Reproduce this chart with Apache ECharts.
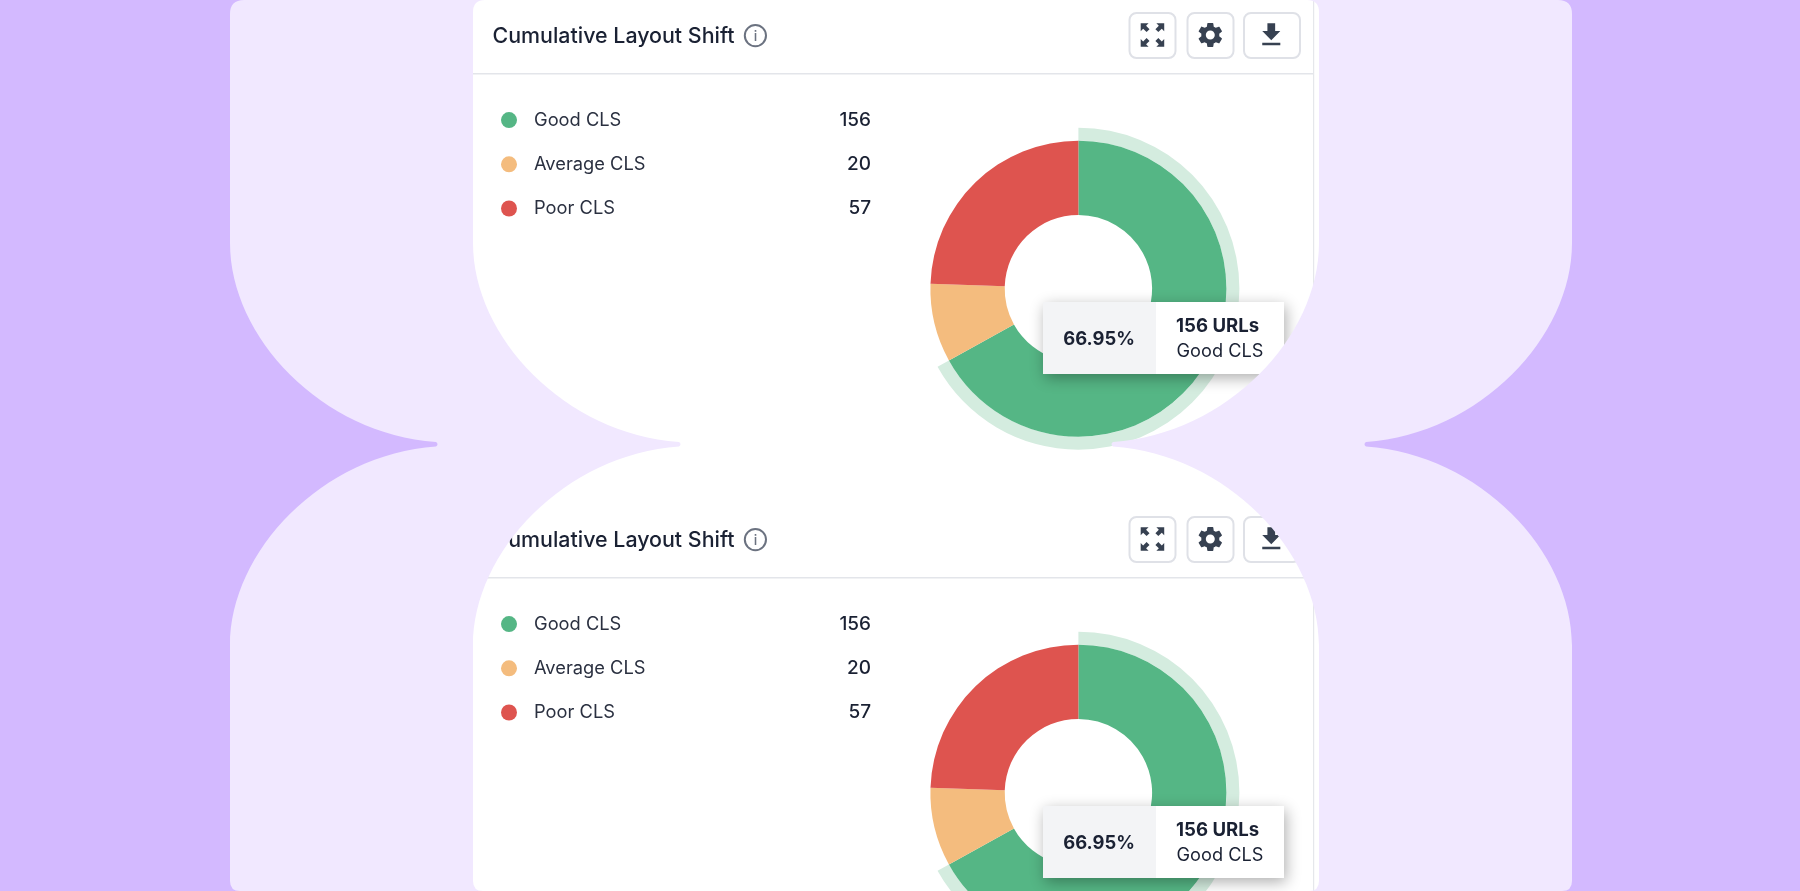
<!DOCTYPE html>
<html><head><meta charset="utf-8">
<style>html,body{margin:0;padding:0;background:#d3b9ff}#c{width:1800px;height:891px}</style>
<script src="https://cdn.jsdelivr.net/npm/echarts@6/dist/echarts.min.js"></script>
</head><body><div id="c"></div>
<script>
const categories = ['Good CLS', 'Average CLS', 'Poor CLS'];
const values = [156, 20, 57];
const colors = ['#55b685', '#f4bc7e', '#de544f'];
const unit = 'URLs';
const title = 'Cumulative Layout Shift';
const panelOffsets = [0, 504];

const total = values.reduce((a, b) => a + b, 0);
const INK = '#1a2133', ICON = '#374151', FONT = 'Inter, sans-serif';
const PATHS = {
  iconExpand: 'M0 0H8L5.5 2.5L9 6L6 9L2.5 5.5L0 8ZM24 0V8L21.5 5.5L18 9L15 6L18.5 2.5L16 0ZM0 24V16L2.5 18.5L6 15L9 18L5.5 21.5L8 24ZM24 24H16L18.5 21.5L15 18L18 15L21.5 18.5L24 16Z',
  iconGear: 'M19.14 12.94c.04-.3.06-.61.06-.94 0-.32-.02-.64-.07-.94l2.03-1.58c.18-.14.23-.41.12-.61l-1.92-3.32c-.12-.22-.37-.29-.59-.22l-2.39.96c-.5-.38-1.03-.7-1.62-.94l-.36-2.54c-.04-.24-.24-.41-.48-.41h-3.84c-.24 0-.43.17-.47.41l-.36 2.54c-.59.24-1.13.57-1.62.94l-2.39-.96c-.22-.08-.47 0-.59.22L2.74 8.87c-.12.21-.08.47.12.61l2.03 1.58c-.05.3-.09.63-.09.94s.02.64.07.94l-2.03 1.58c-.18.14-.23.41-.12.61l1.92 3.32c.12.22.37.29.59.22l2.39-.96c.5.38 1.03.7 1.62.94l.36 2.54c.05.24.24.41.48.41h3.84c.24 0 .44-.17.47-.41l.36-2.54c.59-.24 1.13-.56 1.62-.94l2.39.96c.22.08.47 0 .59-.22l1.92-3.32c.12-.22.07-.47-.12-.61l-2.01-1.58zM12 15.6c-1.98 0-3.6-1.62-3.6-3.6s1.62-3.6 3.6-3.6 3.6 1.62 3.6 3.6-1.62 3.6-3.6 3.6z',
  iconDownload: 'M19 9h-4V3H9v6H5l7 7 7-7zM5 18v2h14v-2H5z',
  ribbonLeft: 'M485 0Q473 0 473 12L473 243C473 337 565 434 679 442Q682 444.2 679 446.6C565 454.6 473 551.6 473 645.6L473 881Q473 891 483 891L240 891Q230 891 230 881L230 645.6C230 551.6 322 454.6 436 446.6Q439 444.2 436 442C322 434 230 337 230 243L230 14Q230 0 244 0Z',
  ribbonRight: 'M1307 0L1558 0Q1572 0 1572 14L1572 243C1572 337 1480 434 1366 442Q1363 444.2 1366 446.6C1480 454.6 1572 551.6 1572 645.6L1572 881Q1572 891 1562 891L1309 891Q1319 891 1319 881L1319 645.6C1319 551.6 1227 454.6 1113 446.6Q1110 444.2 1113 442C1227 434 1319 337 1319 243L1319 12Q1319 0 1307 0Z'
};
Object.keys(PATHS).forEach(k => echarts.graphic.registerShape(k, echarts.graphic.extendPath(PATHS[k], {})));

function text(t, x, y, font, fill, align, z) {
  return { type: 'text', z: z || 10, silent: true, style: { text: t, x, y, font, fill, textAlign: align || 'left', textVerticalAlign: 'middle' } };
}
function button(x, w, oy) {
  return { type: 'rect', z: 10, silent: true, shape: { x, y: 13 + oy, width: w, height: 45, r: 7 },
    style: { fill: '#fff', stroke: '#dfe1e7', lineWidth: 2 } };
}
function icon(name, x, y, sx, sy) {
  return { type: name, z: 11, silent: true, x, y, scaleX: sx, scaleY: sy, style: { fill: ICON } };
}
function panelGraphics(oy) {
  const pct = (values[0] / total * 100).toFixed(2) + '%';
  return [
    { type: 'rect', z: 5, silent: true, shape: { x: 473, y: 73 + oy, width: 840, height: 1.5 }, style: { fill: '#e3e5ea' } },
    text(title, 492.5, 36.6 + oy, '500 21.4px ' + FONT, INK),
    { type: 'circle', z: 10, silent: true, shape: { cx: 755.4, cy: 35.6 + oy, r: 10.6 }, style: { fill: 'none', stroke: '#6b7280', lineWidth: 2 } },
    text('i', 755.4, 36.5 + oy, '500 14px ' + FONT, '#6b7280', 'center'),
    button(1129.5, 46, oy), button(1187.5, 46, oy), button(1244, 56, oy),
    icon('iconExpand', 1140.7, 23.3 + oy, 0.98, 0.98),
    icon('iconGear', 1195.3, 20 + oy, 1.25, 1.25),
    icon('iconDownload', 1255.8, 19.5 + oy, 1.29, 1.29),
    { type: 'rect', z: 50, silent: true, shape: { x: 1043, y: 302 + oy, width: 241, height: 72 },
      style: { fill: '#fff', shadowBlur: 14, shadowColor: 'rgba(0,0,0,0.32)', shadowOffsetX: 2, shadowOffsetY: 4 } },
    { type: 'rect', z: 51, silent: true, shape: { x: 1043, y: 302 + oy, width: 113, height: 72 }, style: { fill: '#f3f4f6' } },
    text(pct, 1099, 339 + oy, '700 18.4px ' + FONT, INK, 'center', 52),
    text(values[0] + ' ' + unit, 1176, 326 + oy, '700 18.6px ' + FONT, INK, 'left', 52),
    text(categories[0], 1176.5, 352 + oy, '400 18.2px ' + FONT, INK, 'left', 52)
  ];
}
const lookup = Object.fromEntries(categories.map((c, i) => [c, values[i]]));
const graphics = [
  { type: 'rect', z: 0, silent: true, shape: { x: 473, y: 0, width: 846, height: 891 }, style: { fill: '#fff' } },
  { type: 'rect', z: 1, silent: true, shape: { x: 1313, y: 0, width: 1.2, height: 891 }, style: { fill: '#e5e7eb' } }
];
panelOffsets.forEach(o => graphics.push(...panelGraphics(o)));
graphics.push(
  { type: 'ribbonLeft', z: 100, silent: true, style: { fill: '#f1e8ff' } },
  { type: 'ribbonRight', z: 100, silent: true, style: { fill: '#f1e8ff' } }
);
const series = [];
const legends = [];
panelOffsets.forEach(o => {
  const center = [1078.4, 288.7 + o];
  series.push({
    type: 'pie', silent: true, animation: false, startAngle: 90, clockwise: true, center, radius: [73.7, 148],
    label: { show: false }, labelLine: { show: false }, z: 3,
    data: categories.map((c, i) => ({ name: c, value: values[i], itemStyle: { color: colors[i] } }))
  });
  series.push({
    type: 'pie', silent: true, animation: false, startAngle: 90, clockwise: true, center, radius: [148, 161],
    label: { show: false }, labelLine: { show: false }, z: 2,
    data: [
      { name: categories[0] + ' highlight', value: values[0], itemStyle: { color: '#d4ecdf' } },
      { name: 'rest', value: total - values[0], itemStyle: { color: 'transparent' } }
    ]
  });
  legends.push({
    orient: 'vertical', left: 501, top: 110.6 + o, itemWidth: 16, itemHeight: 16, itemGap: 25.2, icon: 'circle', selectedMode: false, padding: 0,
    data: categories.map((c, i) => ({ name: c, itemStyle: { color: colors[i] } })),
    formatter: n => `{n|${n}}{v|${lookup[n]}}`,
    textStyle: { rich: {
      n: { width: 237, lineHeight: 16, padding: [0, 0, 0, 12], fontFamily: 'Inter', fontSize: 18.3, color: '#2a3040' },
      v: { width: 100, lineHeight: 16, align: 'right', fontFamily: 'Inter', fontSize: 19, fontWeight: 500, color: INK }
    } }
  });
});
const chart = echarts.init(document.getElementById('c'), null, { renderer: 'canvas' });
chart.setOption({ animation: false, backgroundColor: '#d3b9ff', tooltip: { show: false }, legend: legends, series, graphic: { elements: graphics } });
</script></body></html>
